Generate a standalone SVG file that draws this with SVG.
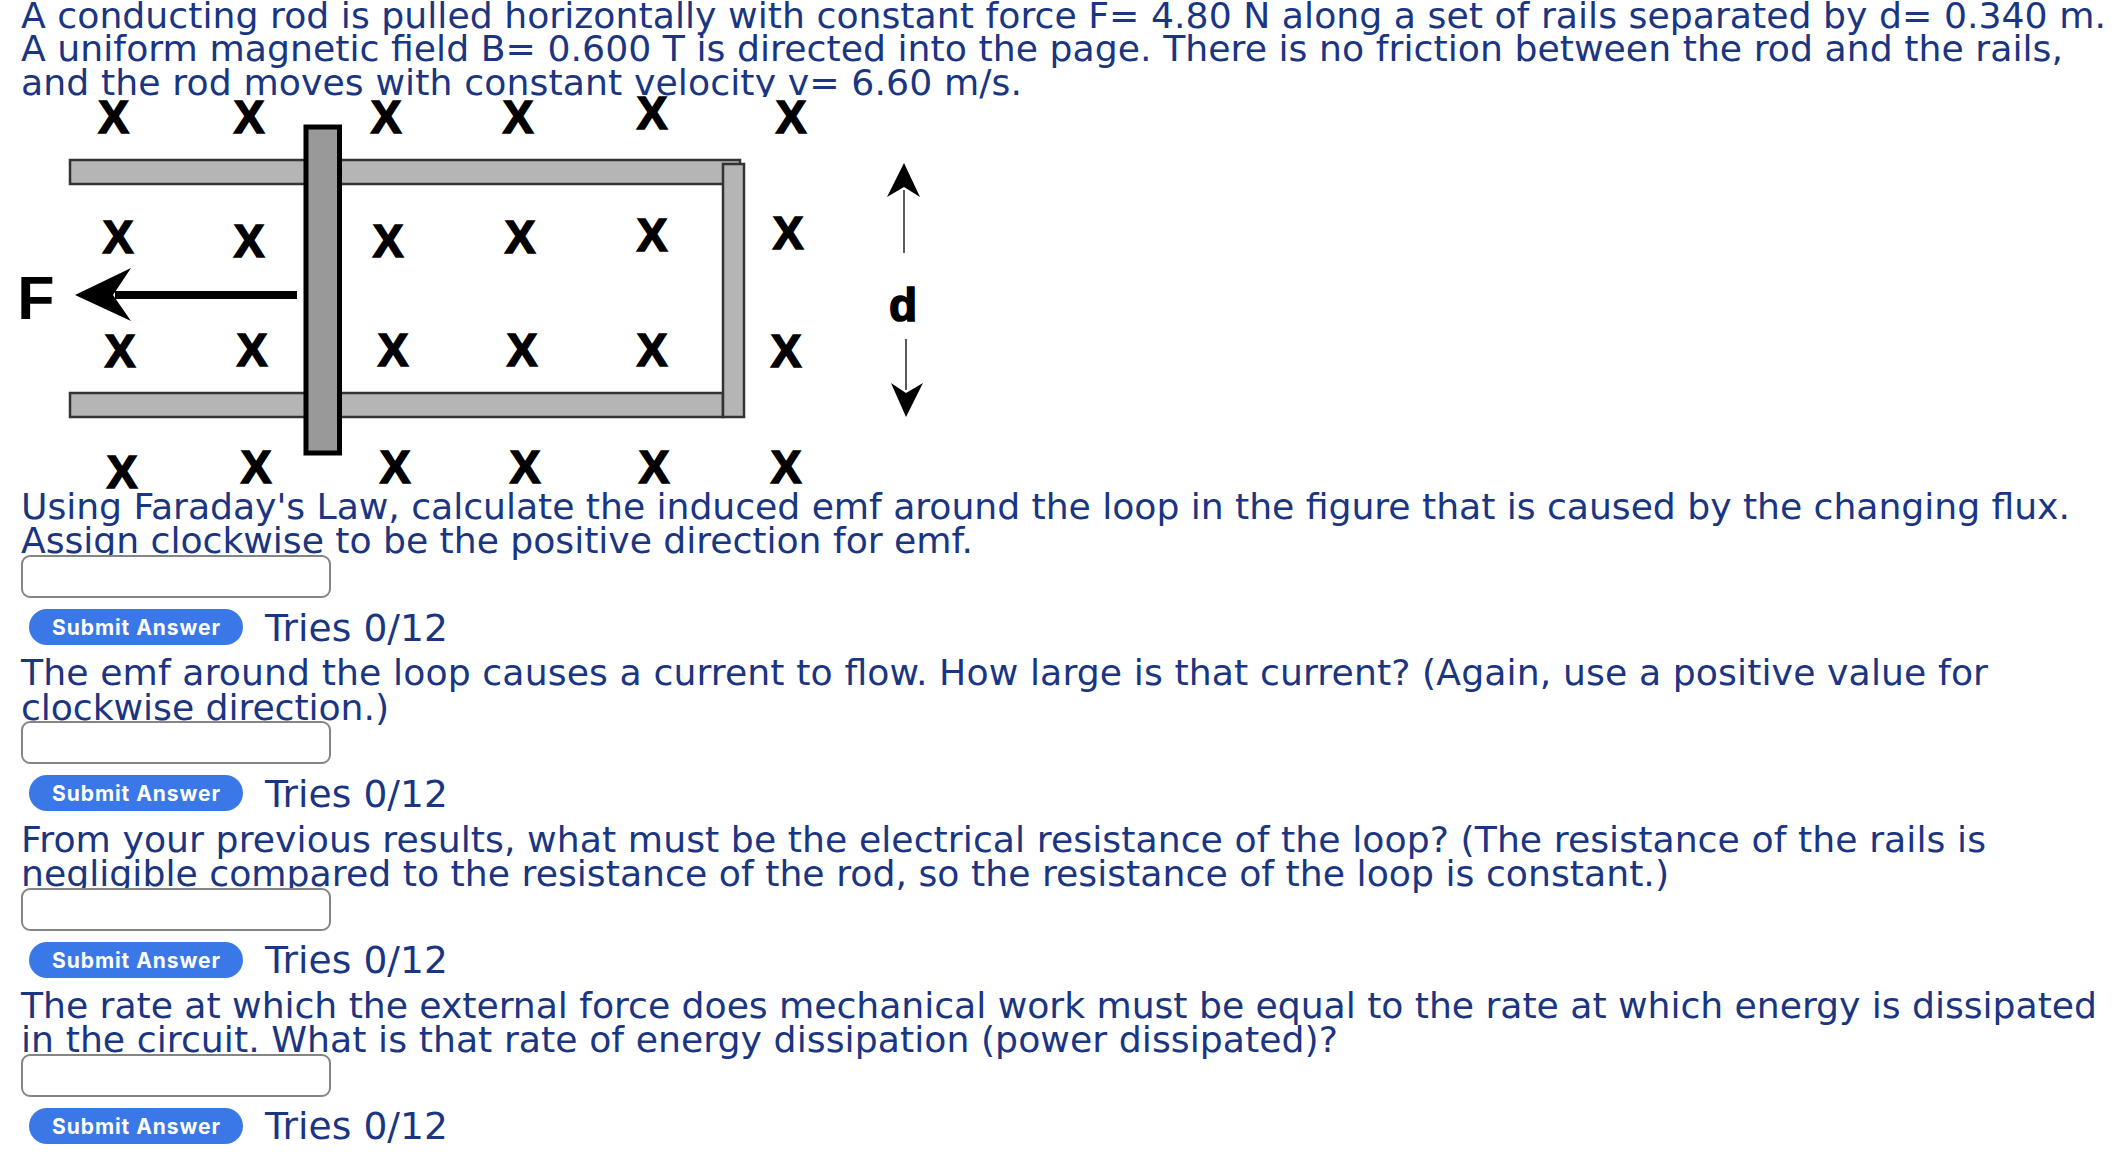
<svg xmlns="http://www.w3.org/2000/svg" width="2121" height="1167" viewBox="0 0 2121 1167">
<style>
.t{font-family:"DejaVu Sans",sans-serif;font-size:36.2px;fill:#1a3582}
.n{font-family:"DejaVu Sans",sans-serif;font-size:37.6px;fill:#1a3582}
.x{font-family:"Liberation Sans",sans-serif;font-weight:700;font-size:46px;fill:#000;stroke:#000;stroke-width:1.6px;text-anchor:middle}
.rail{fill:#b5b5b5;stroke:#333;stroke-width:2.5}
.inp{fill:#fff;stroke:#858585;stroke-width:2}
.btn{fill:#3b78e7}
.bt{font-family:"Inter",sans-serif;font-weight:700;font-size:21px;fill:#fff;text-anchor:middle}
</style>
<rect width="2121" height="1167" fill="#fff"/>
<g id="intro" class="t">
<text x="21" y="28" textLength="2085">A conducting rod is pulled horizontally with constant force F= 4.80 N along a set of rails separated by d= 0.340 m.</text>
<text x="21" y="61" textLength="2042">A uniform magnetic field B= 0.600 T is directed into the page. There is no friction between the rod and the rails,</text>
<text x="21" y="95" textLength="1001">and the rod moves with constant velocity v= 6.60 m/s.</text>
</g>
<g id="figure">
<rect x="20" y="97" width="900" height="390" fill="#fff"/>
<rect class="rail" x="70" y="160" width="670" height="24"/>
<rect class="rail" x="70" y="393" width="653" height="24"/>
<rect class="rail" x="723" y="164" width="21" height="253"/>
<rect x="306" y="127" width="33.500" height="326" fill="#999" stroke="#000" stroke-width="5"/>
<path d="M115 295H297" stroke="#000" stroke-width="8"/>
<path d="M75 295L131 268L113 295L131 321Z"/>
<path d="M904 253V190" stroke="#222" stroke-width="1.500"/>
<path d="M904 163L920 197L904 187L887 197Z"/>
<path d="M906 339V390" stroke="#222" stroke-width="1.500"/>
<path d="M906 417L891 383L906 393L923 383Z"/>
<text x="36" y="319" font-family="Liberation Sans,sans-serif" font-weight="700" font-size="61" text-anchor="middle">F</text>
<text class="x" x="903" y="321">d</text>
<g>
<text class="x" x="113.500" y="133">X</text><text class="x" x="249" y="133">X</text><text class="x" x="386" y="133">X</text><text class="x" x="518" y="133">X</text><text class="x" x="652" y="129">X</text><text class="x" x="791" y="133">X</text>
<text class="x" x="118" y="253">X</text><text class="x" x="249" y="257">X</text><text class="x" x="388" y="257">X</text><text class="x" x="520" y="253">X</text><text class="x" x="652" y="251">X</text><text class="x" x="788" y="249">X</text>
<text class="x" x="120" y="367">X</text><text class="x" x="252" y="366">X</text><text class="x" x="393" y="366">X</text><text class="x" x="522" y="366">X</text><text class="x" x="652" y="366">X</text><text class="x" x="786" y="367">X</text>
<text class="x" x="122" y="488">X</text><text class="x" x="256" y="483">X</text><text class="x" x="395" y="483">X</text><text class="x" x="525" y="483">X</text><text class="x" x="654" y="483">X</text><text class="x" x="786" y="483">X</text>
</g>
</g>
<g id="q1">
<text class="t" x="21" y="519" textLength="2049">Using Faraday's Law, calculate the induced emf around the loop in the figure that is caused by the changing flux.</text>
<text class="t" x="21" y="553" textLength="952">Assign clockwise to be the positive direction for emf.</text>
<rect class="inp" x="22" y="556" width="308" height="41" rx="8"/>
<rect class="btn" x="29" y="609" width="214" height="36" rx="18"/><text class="bt" x="136" y="635" textLength="168">Submit Answer</text>
<text class="n" x="265" y="641" textLength="183">Tries 0/12</text>
</g>
<g id="q2">
<text class="t" x="21" y="685" textLength="1967">The emf around the loop causes a current to flow. How large is that current? (Again, use a positive value for</text>
<text class="t" x="21" y="720" textLength="368">clockwise direction.)</text>
<rect class="inp" x="22" y="722" width="308" height="41" rx="8"/>
<rect class="btn" x="29" y="775" width="214" height="36" rx="18"/><text class="bt" x="136" y="801" textLength="168">Submit Answer</text>
<text class="n" x="265" y="807" textLength="183">Tries 0/12</text>
</g>
<g id="q3">
<text class="t" x="21" y="852" textLength="1965">From your previous results, what must be the electrical resistance of the loop? (The resistance of the rails is</text>
<text class="t" x="21" y="886" textLength="1648">negligible compared to the resistance of the rod, so the resistance of the loop is constant.)</text>
<rect class="inp" x="22" y="889" width="308" height="41" rx="8"/>
<rect class="btn" x="29" y="942" width="214" height="36" rx="18"/><text class="bt" x="136" y="968" textLength="168">Submit Answer</text>
<text class="n" x="265" y="973" textLength="183">Tries 0/12</text>
</g>
<g id="q4">
<text class="t" x="21" y="1018" textLength="2076">The rate at which the external force does mechanical work must be equal to the rate at which energy is dissipated</text>
<text class="t" x="21" y="1052" textLength="1317">in the circuit. What is that rate of energy dissipation (power dissipated)?</text>
<rect class="inp" x="22" y="1055" width="308" height="41" rx="8"/>
<rect class="btn" x="29" y="1108" width="214" height="36" rx="18"/><text class="bt" x="136" y="1134" textLength="168">Submit Answer</text>
<text class="n" x="265" y="1139" textLength="183">Tries 0/12</text>
</g>
</svg>
